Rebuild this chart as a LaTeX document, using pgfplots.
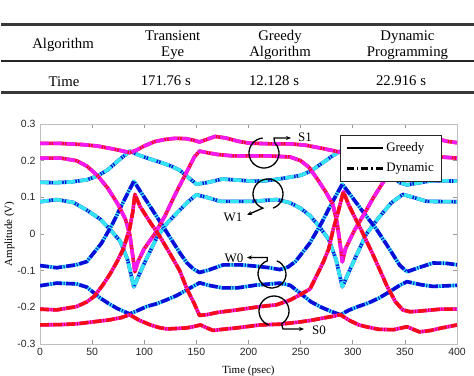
\documentclass[border=0pt]{standalone}
\usepackage{fontspec}
\setmainfont{Liberation Serif}
\setsansfont{Liberation Sans}
\usepackage{pgfplots}
\pgfplotsset{compat=1.18}
\usepackage{pgfplotstable}
\usetikzlibrary{arrows.meta}

\definecolor{mRed}{rgb}{0.95,0.05,0.1}
\definecolor{mMag}{rgb}{0.95,0.1,0.95}
\definecolor{mCyan}{rgb}{0.2,0.9,0.95}
\definecolor{mBlue}{rgb}{0.05,0.05,0.85}
\definecolor{tickgray}{rgb}{0.15,0.15,0.15}

\pgfplotstableread{
x y
0 0.247
20 0.247
40 0.244
55 0.240
70 0.232
80 0.226
86 0.222
92 0.228
100 0.240
110 0.252
120 0.258
130 0.261
140 0.260
147 0.256
153 0.251
160 0.258
168 0.266
178 0.262
190 0.253
200 0.248
220 0.246
240 0.246
255 0.242
270 0.234
280 0.228
288 0.223
295 0.230
305 0.245
315 0.255
325 0.260
340 0.260
347 0.256
353 0.251
360 0.258
368 0.265
378 0.262
390 0.253
400 0.249
}\tSa

\pgfplotstableread{
x y
0 0.207
20 0.207
35 0.200
45 0.185
55 0.160
65 0.125
75 0.080
82 0.040
86 0.000
89 -0.060
91 -0.103
94 -0.075
100 -0.040
110 0.000
120 0.050
130 0.110
140 0.165
148 0.210
153 0.226
160 0.222
170 0.217
185 0.213
200 0.213
220 0.213
240 0.210
250 0.200
258 0.182
266 0.150
274 0.115
281 0.080
285 0.030
288 -0.030
290 -0.076
293 -0.040
302 0.012
310 0.050
320 0.100
330 0.145
340 0.190
348 0.215
353 0.226
360 0.222
370 0.216
385 0.210
400 0.207
}\tSb

\pgfplotstableread{
x y
0 0.141
15 0.140
30 0.142
45 0.148
55 0.158
65 0.175
75 0.200
86 0.226
95 0.215
105 0.205
115 0.196
125 0.186
134 0.174
142 0.155
150 0.136
160 0.140
175 0.150
190 0.147
204 0.144
215 0.145
227 0.149
240 0.155
250 0.160
260 0.172
270 0.192
280 0.212
288 0.226
297 0.214
307 0.203
317 0.194
327 0.182
337 0.160
345 0.140
352 0.134
360 0.138
375 0.145
390 0.145
400 0.144
}\tWa

\pgfplotstableread{
x y
0 0.088
16 0.094
32 0.086
45 0.065
58 0.040
68 0.010
77 -0.020
84 -0.070
90 -0.144
100 -0.080
112 -0.010
122 0.030
134 0.065
142 0.088
150 0.107
160 0.100
173 0.089
190 0.089
204 0.089
227 0.094
240 0.085
250 0.070
259 0.050
268 0.020
277 -0.015
284 -0.070
290 -0.144
300 -0.080
313 0.000
325 0.045
337 0.085
348 0.108
358 0.100
371 0.089
400 0.088
}\tWb

\pgfplotstableread{
x y
0 -0.086
16 -0.092
35 -0.084
45 -0.075
52 -0.050
59 -0.025
70 0.030
80 0.088
90 0.144
100 0.100
110 0.056
120 0.012
128 -0.024
135 -0.055
141 -0.079
147 -0.095
153 -0.105
162 -0.098
176 -0.084
192 -0.084
208 -0.088
220 -0.092
230 -0.097
238 -0.090
245 -0.075
252 -0.050
259 -0.024
270 0.030
280 0.085
290 0.136
300 0.098
310 0.060
323 0.012
335 -0.040
345 -0.085
352 -0.103
362 -0.093
377 -0.079
390 -0.080
400 -0.084
}\tVa

\pgfplotstableread{
x y
0 -0.141
16 -0.134
35 -0.136
45 -0.145
58 -0.175
66 -0.190
74 -0.203
86 -0.218
95 -0.207
102 -0.198
112 -0.190
121 -0.180
131 -0.168
141 -0.152
153 -0.133
162 -0.140
175 -0.147
189 -0.147
208 -0.139
230 -0.134
240 -0.140
249 -0.160
260 -0.185
270 -0.200
280 -0.212
288 -0.220
297 -0.207
305 -0.198
315 -0.188
325 -0.175
335 -0.158
345 -0.140
352 -0.130
365 -0.138
377 -0.143
400 -0.140
}\tVb

\pgfplotstableread{
x y
0 -0.205
16 -0.207
35 -0.198
45 -0.185
52 -0.170
60 -0.140
67 -0.110
74 -0.075
80 -0.040
86 0.015
89 0.060
91 0.108
96 0.075
105 0.035
115 -0.007
125 -0.055
134 -0.100
141 -0.150
148 -0.190
153 -0.222
160 -0.220
170 -0.214
189 -0.207
211 -0.198
227 -0.193
240 -0.180
250 -0.165
259 -0.150
266 -0.110
272 -0.075
277 -0.040
281 0.010
286 0.060
291 0.116
296 0.080
303 0.040
310 0.000
320 -0.060
333 -0.143
341 -0.185
348 -0.207
355 -0.212
365 -0.210
384 -0.205
400 -0.205
}\tTa

\pgfplotstableread{
x y
0 -0.248
20 -0.247
35 -0.245
50 -0.240
67 -0.234
78 -0.228
86 -0.220
95 -0.235
106 -0.248
114 -0.255
122 -0.259
141 -0.256
148 -0.252
154 -0.248
160 -0.256
166 -0.263
175 -0.260
189 -0.256
200 -0.252
211 -0.248
230 -0.246
249 -0.240
259 -0.236
270 -0.230
280 -0.225
288 -0.220
297 -0.236
306 -0.248
313 -0.253
325 -0.260
339 -0.261
347 -0.256
352 -0.253
358 -0.260
364 -0.267
375 -0.263
384 -0.257
400 -0.248
}\tTb

\tikzset{dyn/.style={dash pattern=on 9bp off 1.6bp on 1bp off 1.6bp}}
\newcommand{\pair}[3]{%
  \addplot[forget plot, line width=3.6bp, color=#2, line join=round] table {#1};
  \addplot[forget plot, line width=3.6bp, color=#3, line join=round, dyn] table {#1};
}

\begin{document}
\begin{tikzpicture}[x=1bp,y=1bp]
\useasboundingbox (0,0) rectangle (474,375);

% ---- table ----
\draw[line width=2.5bp, black!78] (1,350.7) -- (474,350.7);
\draw[line width=1.1bp, black!85] (1,314) -- (474,314);
\draw[line width=2.5bp, black!78] (1,282.3) -- (474,282.3);
\begin{scope}[every node/.style={font=\fontsize{14.8}{16}\selectfont, inner sep=0pt, anchor=base}]
\node at (63,326.5) {Algorithm};
\node at (172.7,334.5) {Transient};
\node at (172.7,318.5) {Eye};
\node at (280,334.5) {Greedy};
\node at (280,318.5) {Algorithm};
\node at (407.5,334.5) {Dynamic};
\node at (407.5,318.5) {Programming};
\node at (64,288.5) {Time};
\node at (165.8,289.5) {171.76 s};
\node at (274,289.5) {12.128 s};
\node at (401,289.5) {22.916 s};
\end{scope}

% ---- plot ----
\begin{axis}[
  at={(40bp,31bp)}, anchor=south west,
  scale only axis, width=417bp, height=220bp,
  xmin=0, xmax=400, ymin=-0.3, ymax=0.3,
  xtick={0,50,100,150,200,250,300,350,400},
  xticklabels={0,50,100,150,200,250,300,350,400},
  ytick={-0.3,-0.2,-0.1,0,0.1,0.2,0.3},
  yticklabels={-0.3,-0.2,-0.1,0,0.1,0.2,0.3},
  tick align=inside, major tick length=4bp,
  axis line style={black!25, line width=0.6bp},
  tick style={black!40, line width=0.6bp},
  ticklabel style={font=\sffamily\fontsize{10.5}{11}\selectfont, text=tickgray},
  xticklabel style={yshift=-1bp},
  yticklabel style={xshift=-1bp},
  xlabel={Time (psec)},
  ylabel={Amplitude (V)},
  label style={font=\fontsize{11}{12}\selectfont},
  xlabel style={at={(axis description cs:0.5,-0.084)}, anchor=north},
  ylabel style={at={(axis description cs:-0.053,0.5)}, anchor=south},
  legend style={at={(rel axis cs:0.7194,0.95)}, anchor=north west,
    draw=black!85, line width=0.8bp, fill=white,
    font=\fontsize{13}{15}\selectfont,
    inner xsep=5bp, inner ysep=5bp, row sep=5bp,
    nodes={inner sep=2.5bp}},
  legend cell align=left,
  legend image code/.code={\draw[#1] (0bp,0bp) -- (36bp,0bp);},
]
\addlegendimage{black, line width=2.4bp}
\addlegendentry{Greedy}
\addlegendimage{black, line width=2.4bp, dash pattern=on 7bp off 3bp on 1.5bp off 3bp}
\addlegendentry{Dynamic}

\pair{\tWa}{mBlue}{mCyan}
\pair{\tWb}{mBlue}{mCyan}
\pair{\tVa}{mCyan}{mBlue}
\pair{\tVb}{mCyan}{mBlue}
\pair{\tSa}{mRed}{mMag}
\pair{\tSb}{mRed}{mMag}
\pair{\tTa}{mMag}{mRed}
\pair{\tTb}{mMag}{mRed}
\end{axis}

% ---- annotations ----
\begin{scope}[line width=1.3bp, black, >={Stealth[length=5bp,width=4bp]}]
% S1
\draw[->] (264,222) ++(95:15) arc[start angle=95, end angle=405, radius=15] -- (274,237) -- (291,237);
\node[font=\fontsize{13}{13}\selectfont, inner sep=0pt] at (305,238) {S1};
% W1
\draw[->] (268,181) ++(-70:15) arc[start angle=-70, end angle=250, radius=15] -- (247,160);
\node[font=\fontsize{13}{13}\selectfont, inner sep=0pt] at (233,158) {W1};
% W0
\draw[->] (272,101) ++(70:14) arc[start angle=70, end angle=-250, radius=14] -- (267.2,117.5) -- (247,117.5);
\node[font=\fontsize{13}{13}\selectfont, inner sep=0pt] at (234,117) {W0};
% S0
\draw[->] (274,64) ++(250:15) arc[start angle=250, end angle=-60, radius=15] -- (283,46) -- (304,46);
\node[font=\fontsize{13}{13}\selectfont, inner sep=0pt] at (319,45) {S0};
\end{scope}
\end{tikzpicture}
\end{document}
